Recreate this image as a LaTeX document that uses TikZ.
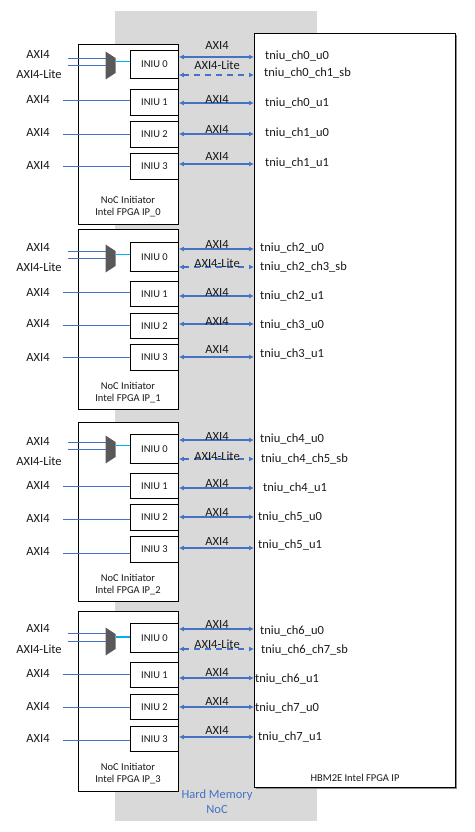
\documentclass[tikz,border=0pt]{standalone}
\usepackage{fontspec}
\setmainfont{Carlito}
\usetikzlibrary{arrows.meta,shadows}
\definecolor{lineblue}{HTML}{4472C4}
\definecolor{muxcyan}{HTML}{00B0F0}
\definecolor{bggray}{HTML}{D9D9D9}
\definecolor{muxgray}{HTML}{595959}
\definecolor{txt}{HTML}{1A1A1A}
\tikzset{
  blk/.style={draw=black, fill=white, line width=0.9pt, anchor=north west, minimum width=100pt, inner sep=0pt},
  iniubox/.style={draw=black, fill=white, line width=0.9pt, anchor=north west, minimum width=48pt, inner sep=0pt, font=\fontsize{10.5}{12}\selectfont, text=txt},
  lbl/.style={font=\fontsize{12.5}{14}\selectfont, text=txt, inner sep=0pt, text height=8pt, text depth=0pt},
  tniu/.style={lbl, anchor=west},
  blktext/.style={align=center, inner sep=0pt, font=\fontsize{10.5}{12.5}\selectfont, text=txt},
  inl/.style={draw=lineblue, line width=0.9pt},
  cyanl/.style={draw=muxcyan, line width=1.1pt},
  biarrow/.style={draw=lineblue, line width=1.1pt, {Latex[length=5pt,width=5pt]}-{Latex[length=5pt,width=5pt]}},
  litearrow/.style={biarrow, dash pattern=on 6pt off 5pt}
}
% block frame + caption
\newcommand{\nocblk}[4]{%
  \node[blk, minimum height={(#3-#2)*1pt}] (blk#1) at (78,#2) {};
  \node[blktext] (cap#1) at (128,#4) {NoC Initiator\\Intel FPGA IP\_#1};
}
% INIU box: block, index, top, bottom
\newcommand{\iniu}[4]{%
  \node[iniubox, minimum height={(#4-#3)*1pt}] (iniu#1-#2) at (130,#3) {INIU #2};
}
% mux inputs: block, line a y, line b y, label a y, label b y
\newcommand{\muxin}[5]{%
  \coordinate (mux#1) at (110.5,{#3+0.5});
  \fill[muxgray] (mux#1) ++(-5,-14) -- ++(10,6.5) -- ++(0,15) -- ++(-10,6.5) -- cycle;
  \coordinate (srcA#1) at (68,#2);
  \coordinate (srcB#1) at (68,#3);
  \coordinate (mxA#1) at (105.5,#2);
  \coordinate (mxB#1) at (105.5,#3);
  \coordinate (mxo#1) at (115.5,{(#2+#3)/2});
  \draw[inl] (srcA#1) -- (mxA#1);
  \draw[inl] (srcB#1) -- (mxB#1);
  \draw[cyanl] (mxo#1) -- (iniu#1-0.west |- mxo#1);
  \node[lbl] (slA#1) at (38,#4) {AXI4};
  \node[lbl] (slB#1) at (39,#5) {AXI4-Lite};
}
% INIU0 outputs: block, arrow a y, arrow b y, label a y, label b y
\newcommand{\muxout}[5]{%
  \coordinate (tgtA#1) at (hbm.west |- 0,#2);
  \coordinate (tgtB#1) at (hbm.west |- 0,#3);
  \draw[biarrow] (iniu#1-0.east |- tgtA#1) -- (tgtA#1);
  \draw[litearrow] (iniu#1-0.east |- tgtB#1) -- (tgtB#1);
  \node[lbl] (alA#1) at (217,#4) {AXI4};
  \node[lbl] (alB#1) at (217,#5) {AXI4-Lite};
}
% other rows: block, k, src line y, src label y, arrow y, arrow label y, tniu x, tniu y, tniu text
\newcommand{\rowio}[9]{%
  \coordinate (src#1-#2) at (63,#3);
  \draw[inl] (src#1-#2) -- (iniu#1-#2.west |- src#1-#2);
  \node[lbl] (sl#1-#2) at (38,#4) {AXI4};
  \coordinate (tgt#1-#2) at (hbm.west |- 0,#5);
  \draw[biarrow] (iniu#1-#2.east |- tgt#1-#2) -- (tgt#1-#2);
  \node[lbl] (al#1-#2) at (217,#6) {AXI4};
  \node[tniu] (tn#1-#2) at (#7,#8) {#9};
}
\begin{document}
\begin{tikzpicture}[x=1pt,y=-1pt]
\useasboundingbox (0,0) rectangle (474,832);
\fill[white] (0,0) rectangle (474,832);
% Hard memory NoC background
\node[fill=bggray, anchor=north west, minimum width=202pt, minimum height=810pt, inner sep=0pt] (hmn) at (115,11) {};
\node[align=center, inner sep=0pt, text=lineblue, font=\fontsize{12.5}{15}\selectfont] (hmnl) at (217,801.5) {Hard Memory\\NoC};
% HBM2E IP
\node[draw=black, fill=white, line width=0.9pt, anchor=north west, minimum width=201pt, minimum height=754pt, inner sep=0pt,
      drop shadow={shadow xshift=1.2pt, shadow yshift=-1.2pt, fill=black!45, opacity=1}] (hbm) at (254,33) {};
\node[blktext] (hbml) at (355,778) {HBM2E Intel FPGA IP};

% ---------- Block 0 ----------
\nocblk{0}{44}{224}{206.5}
\iniu{0}{0}{50}{78}\iniu{0}{1}{89}{115}\iniu{0}{2}{121}{147}\iniu{0}{3}{153}{179}
\muxin{0}{58}{65}{55}{75}
\muxout{0}{57}{75}{46}{66}
\node[tniu] (tn0-0) at (265,56) {tniu\_ch0\_u0};
\node[tniu] (tn0-s) at (264,73) {tniu\_ch0\_ch1\_sb};
\rowio{0}{1}{100}{99}{103}{99}{265}{103}{tniu\_ch0\_u1}
\rowio{0}{2}{134}{132}{134}{129}{265}{132}{tniu\_ch1\_u0}
\rowio{0}{3}{166}{165}{164}{156}{265}{162}{tniu\_ch1\_u1}

% ---------- Block 1 ----------
\nocblk{1}{229}{409}{392.5}
\iniu{1}{0}{242}{271}\iniu{1}{1}{281}{306}\iniu{1}{2}{313}{338}\iniu{1}{3}{344}{370}
\muxin{1}{251}{258}{247}{267}
\muxout{1}{249}{267}{244}{263}
\node[tniu] (tn1-0) at (260,247) {tniu\_ch2\_u0};
\node[tniu] (tn1-s) at (260,266) {tniu\_ch2\_ch3\_sb};
\rowio{1}{1}{292}{292}{296}{292}{260}{295}{tniu\_ch2\_u1}
\rowio{1}{2}{325}{323}{324}{321}{260}{324}{tniu\_ch3\_u0}
\rowio{1}{3}{357}{357}{357}{349}{260}{353}{tniu\_ch3\_u1}

% ---------- Block 2 ----------
\nocblk{2}{422}{601}{584.5}
\iniu{2}{0}{434}{463}\iniu{2}{1}{473}{498}\iniu{2}{2}{504}{530}\iniu{2}{3}{536}{562}
\muxin{2}{442}{449}{441}{461}
\muxout{2}{440}{459}{436}{456}
\node[tniu] (tn2-0) at (260,438) {tniu\_ch4\_u0};
\node[tniu] (tn2-s) at (261,458) {tniu\_ch4\_ch5\_sb};
\rowio{2}{1}{486}{485}{488}{483}{263}{487}{tniu\_ch4\_u1}
\rowio{2}{2}{519}{518}{517}{512}{258}{516}{tniu\_ch5\_u0}
\rowio{2}{3}{553}{551}{548}{541}{258}{544}{tniu\_ch5\_u1}

% ---------- Block 3 ----------
\nocblk{3}{611}{791}{773.5}
\iniu{3}{0}{623}{652}\iniu{3}{1}{662}{687}\iniu{3}{2}{694}{719}\iniu{3}{3}{726}{751}
\muxin{3}{633}{641}{628}{649}
\muxout{3}{629}{649}{624}{644}
\node[tniu] (tn3-0) at (260,630) {tniu\_ch6\_u0};
\node[tniu] (tn3-s) at (261,649) {tniu\_ch6\_ch7\_sb};
\rowio{3}{1}{674}{673}{678}{672}{255}{678}{tniu\_ch6\_u1}
\rowio{3}{2}{707}{706}{707}{701}{255}{707}{tniu\_ch7\_u0}
\rowio{3}{3}{740}{738}{737}{730}{258}{736}{tniu\_ch7\_u1}
\end{tikzpicture}
\end{document}
